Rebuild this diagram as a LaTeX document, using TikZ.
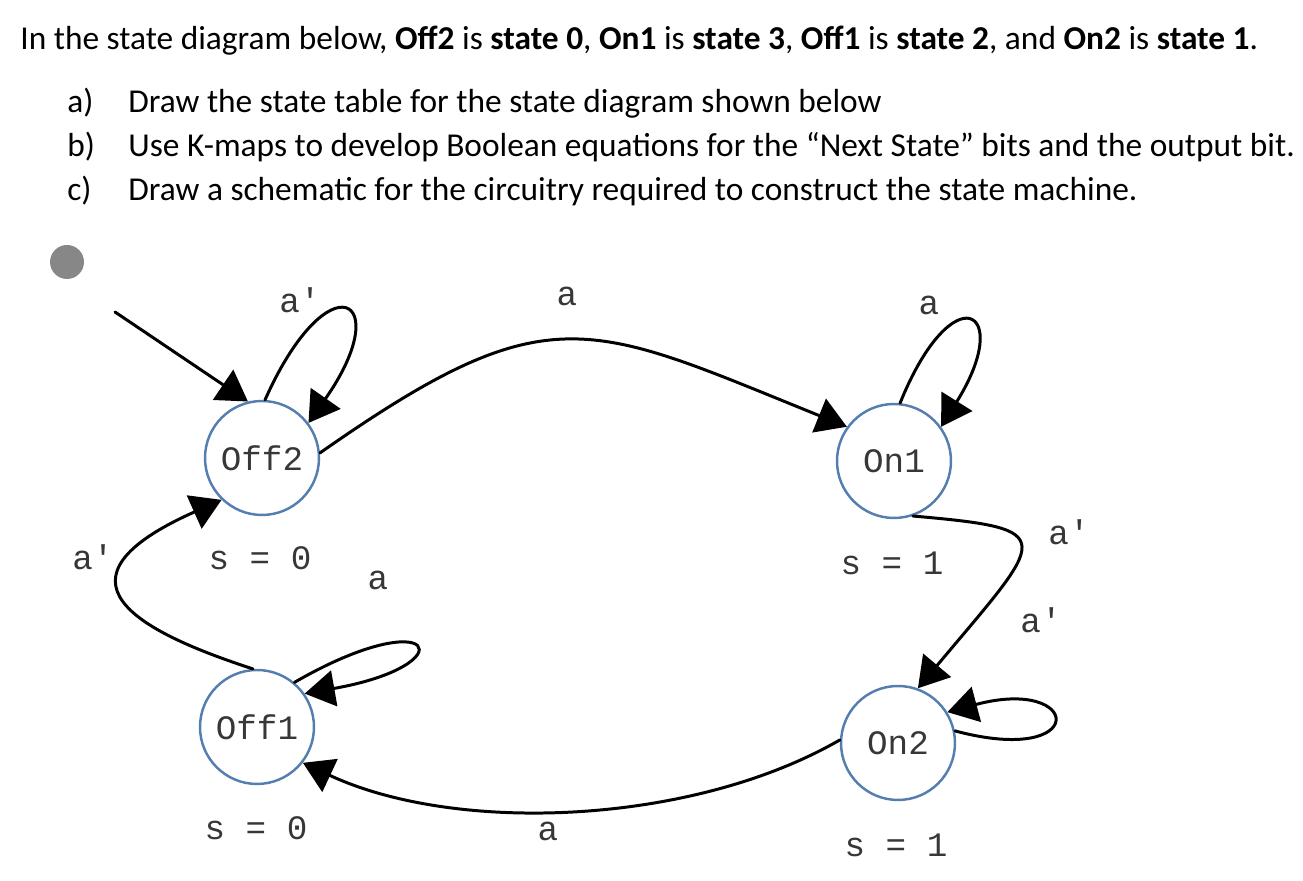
\documentclass[tikz,border=0pt]{standalone}
\usepackage{fontspec}
\setmainfont{Carlito}
\newfontfamily\courierfont{Liberation Mono}
\usetikzlibrary{arrows.meta}
\definecolor{ringblue}{RGB}{84,125,176}
\definecolor{labelgray}{RGB}{55,55,55}
\definecolor{dotgray}{RGB}{135,135,135}
\begin{document}
\begin{tikzpicture}[x=0.02cm,y=0.02cm,
  state/.style={circle,draw=ringblue,line width=1.4pt,minimum size=2.28cm,inner sep=0pt,font=\courierfont\fontsize{19.5}{20}\selectfont,text=labelgray},
  lbl/.style={anchor=base,inner sep=0pt,font=\courierfont\fontsize{19.5}{20}\selectfont,text=labelgray},
  edge/.style={line width=1.7pt,line cap=round,-{Triangle[length=0.6cm,width=0.72cm]}},
  prose/.style={anchor=base west,inner sep=0pt,font=\fontsize{19}{23}\selectfont}]
\useasboundingbox (0,0) rectangle (1303,881);
% question text
\node[prose] (intro) at (20,831) {In the state diagram below, \textbf{Off2} is \textbf{state 0}, \textbf{On1} is \textbf{state 3}, \textbf{Off1} is \textbf{state 2}, and \textbf{On2} is \textbf{state 1}.};
\node[prose] (ka) at (67,768) {a)};\node[prose] (qa) at (128,768) {Draw the state table for the state diagram shown below};
\node[prose] (kb) at (67,724) {b)};\node[prose] (qb) at (128,724) {Use K-maps to develop Boolean equations for the “Next State” bits and the output bit.};
\node[prose] (kc) at (67,680) {c)};\node[prose] (qc) at (128,680) {Draw a schematic for the circuitry required to construct the state machine.};
\fill[dotgray] (67,619) circle (17);
% states
\node[state] (off2) at (262,423) {Off2};
\node[state] (on1) at (894,420) {On1};
\node[state] (off1) at (257,154) {Off1};
\node[state] (on2) at (898,138) {On2};
\coordinate (init) at (115,569);
% transitions
\draw[edge] (init) -- (off2.104);
\draw[edge] (off2.87) .. controls +(66:155) and +(55:155) .. (off2.37);
\draw[edge] (off2.5) .. controls +(35:280) and +(158:280) .. (on1.144);
\draw[edge] (on1.84) .. controls +(68:140) and +(58:140) .. (on1.36);
\draw[edge] (on1.-71) .. controls +(-5:150) and +(50:200) .. (on2.70);
\draw[edge] (on2.12) .. controls +(-15:140) and +(15:140) .. (on2.32);
\draw[edge] (on2.177) .. controls +(210:170) and +(-25:170) .. (off1.-38);
\draw[edge] (off1.50) .. controls +(30:165) and +(10:165) .. (off1.35);
\draw[edge] (off1.94) .. controls +(162:125) and +(204:195) .. (off2.226);
% labels
\node[lbl] (l1) at (300,568) {a'};
\node[lbl] (l2) at (567,575) {a};
\node[lbl] (l3) at (929,566) {a};
\node[lbl] (l4) at (93,311) {a'};
\node[lbl] (s1) at (260,311) {s = 0};
\node[lbl] (l5) at (378,291) {a};
\node[lbl] (s2) at (892,306) {s = 1};
\node[lbl] (l6) at (1069,336) {a'};
\node[lbl] (l7) at (1041,248) {a'};
\node[lbl] (s3) at (256,41) {s = 0};
\node[lbl] (l8) at (548,40) {a};
\node[lbl] (s4) at (896,24) {s = 1};
\end{tikzpicture}
\end{document}
